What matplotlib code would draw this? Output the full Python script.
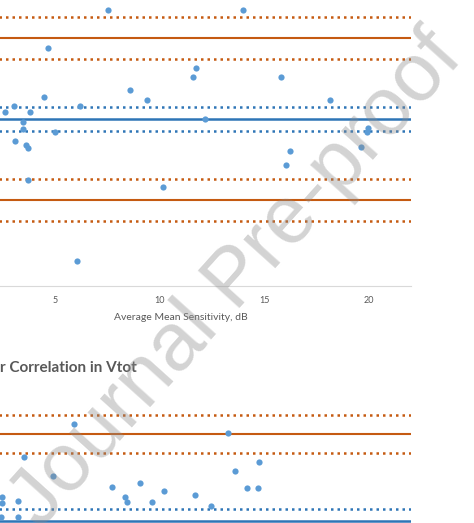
import matplotlib.pyplot as plt

# top panel: average mean sensitivity (dB) vs difference
top_x = [7.53, 4.67, 11.74, 11.60, 4.48, 8.59, 9.40, 3.04, 2.61, 3.81,
         6.20, 3.47, 3.47, 5.00, 12.17, 3.09, 3.62, 3.71, 13.98, 15.80,
         18.14, 19.96, 19.91, 16.23, 19.62, 16.04, 3.71, 10.16, 6.05]
top_y = [5.80, 3.90, 2.90, 2.45, 1.45, 1.80, 1.30, 1.00, 0.70, 0.70,
         1.00, 0.20, -0.15, -0.30, 0.35, -0.75, -0.95, -1.10, 5.80, 2.45,
         1.30, -0.10, -0.30, -1.25, -1.05, -1.95, -2.70, -3.05, -6.75]
top_bias, top_bias_ci = 0.35, 0.62
top_loa, top_loa_ci = [4.42, -3.72], 1.05

# bottom panel: correlation in Vtot
bot_x = [5.91, 13.27, 3.52, 14.75, 13.60, 4.91, 7.73, 9.06, 14.18, 14.70,
         10.21, 11.69, 8.35, 8.44, 9.64, 12.46, 2.47, 2.47, 3.23, 2.42, 3.23]
bot_y = [5.05, 4.60, 3.40, 3.15, 2.70, 2.45, 1.90, 2.10, 1.85, 1.85,
         1.70, 1.50, 1.40, 1.15, 1.15, 0.95, 1.40, 1.10, 1.20, 0.40, 0.40]
bot_bias, bot_bias_ci = 0.2, 0.6
bot_loa, bot_loa_ci = [4.55], 0.95

x_ticks = [5, 10, 15, 20]

blue = '#5B9BD5'
dark_blue = '#2E75B6'
orange = '#C55A11'
grey = '#595959'
dot = (0, (1, 1.6))

plt.rcParams['font.family'] = ['Lato', 'DejaVu Sans']

fig = plt.figure(figsize=(4.74, 5.23), dpi=100)


def bland_altman(ax, x, y, bias, bias_ci, loas, loa_ci, ylim):
    ax.scatter(x, y, s=20, color=blue, zorder=3, linewidths=0)
    ax.axhline(bias, color=dark_blue, lw=1.8)
    ax.axhline(bias + bias_ci, color=dark_blue, lw=1.8, ls=dot)
    ax.axhline(bias - bias_ci, color=dark_blue, lw=1.8, ls=dot)
    for loa in loas:
        ax.axhline(loa, color=orange, lw=1.5)
        ax.axhline(loa + loa_ci, color=orange, lw=1.8, ls=dot)
        ax.axhline(loa - loa_ci, color=orange, lw=1.8, ls=dot)
    ax.set_xlim(0, 22)
    ax.set_ylim(*ylim)
    for s in ['top', 'right', 'left']:
        ax.spines[s].set_visible(False)
    ax.spines['bottom'].set_color('#D9D9D9')
    ax.set_xticks(x_ticks)
    ax.tick_params(axis='x', length=0, labelsize=6.5, labelcolor=grey, pad=7)
    ax.set_yticks([])
    ax.patch.set_alpha(0)


ax1 = fig.add_axes([-0.1049, 0.4532, 0.9715, 0.6119])
bland_altman(ax1, top_x, top_y, top_bias, top_bias_ci, top_loa, top_loa_ci, (-8, 8))
ax1.set_xlabel('Average Mean Sensitivity, dB', fontsize=7.5, color=grey, labelpad=6)

ax2 = fig.add_axes([-0.1049, -0.2333, 0.9715, 0.4971])
bland_altman(ax2, bot_x, bot_y, bot_bias, bot_bias_ci, bot_loa, bot_loa_ci, (-6, 7))
ax2.spines['bottom'].set_visible(False)
ax2.tick_params(axis='x', labelbottom=False)

fig.text(0.0, 0.296, 'r Correlation in Vtot', fontsize=11, fontweight='bold',
         color=grey, ha='left', va='center')

# watermark
fig.text(0.5, 0.465, 'Journal Pre-proof', fontsize=59, color='#8c8c8c', alpha=0.38,
         rotation=48, ha='center', va='center', family='Liberation Sans', zorder=10)

fig.savefig('out.png', dpi=100)
